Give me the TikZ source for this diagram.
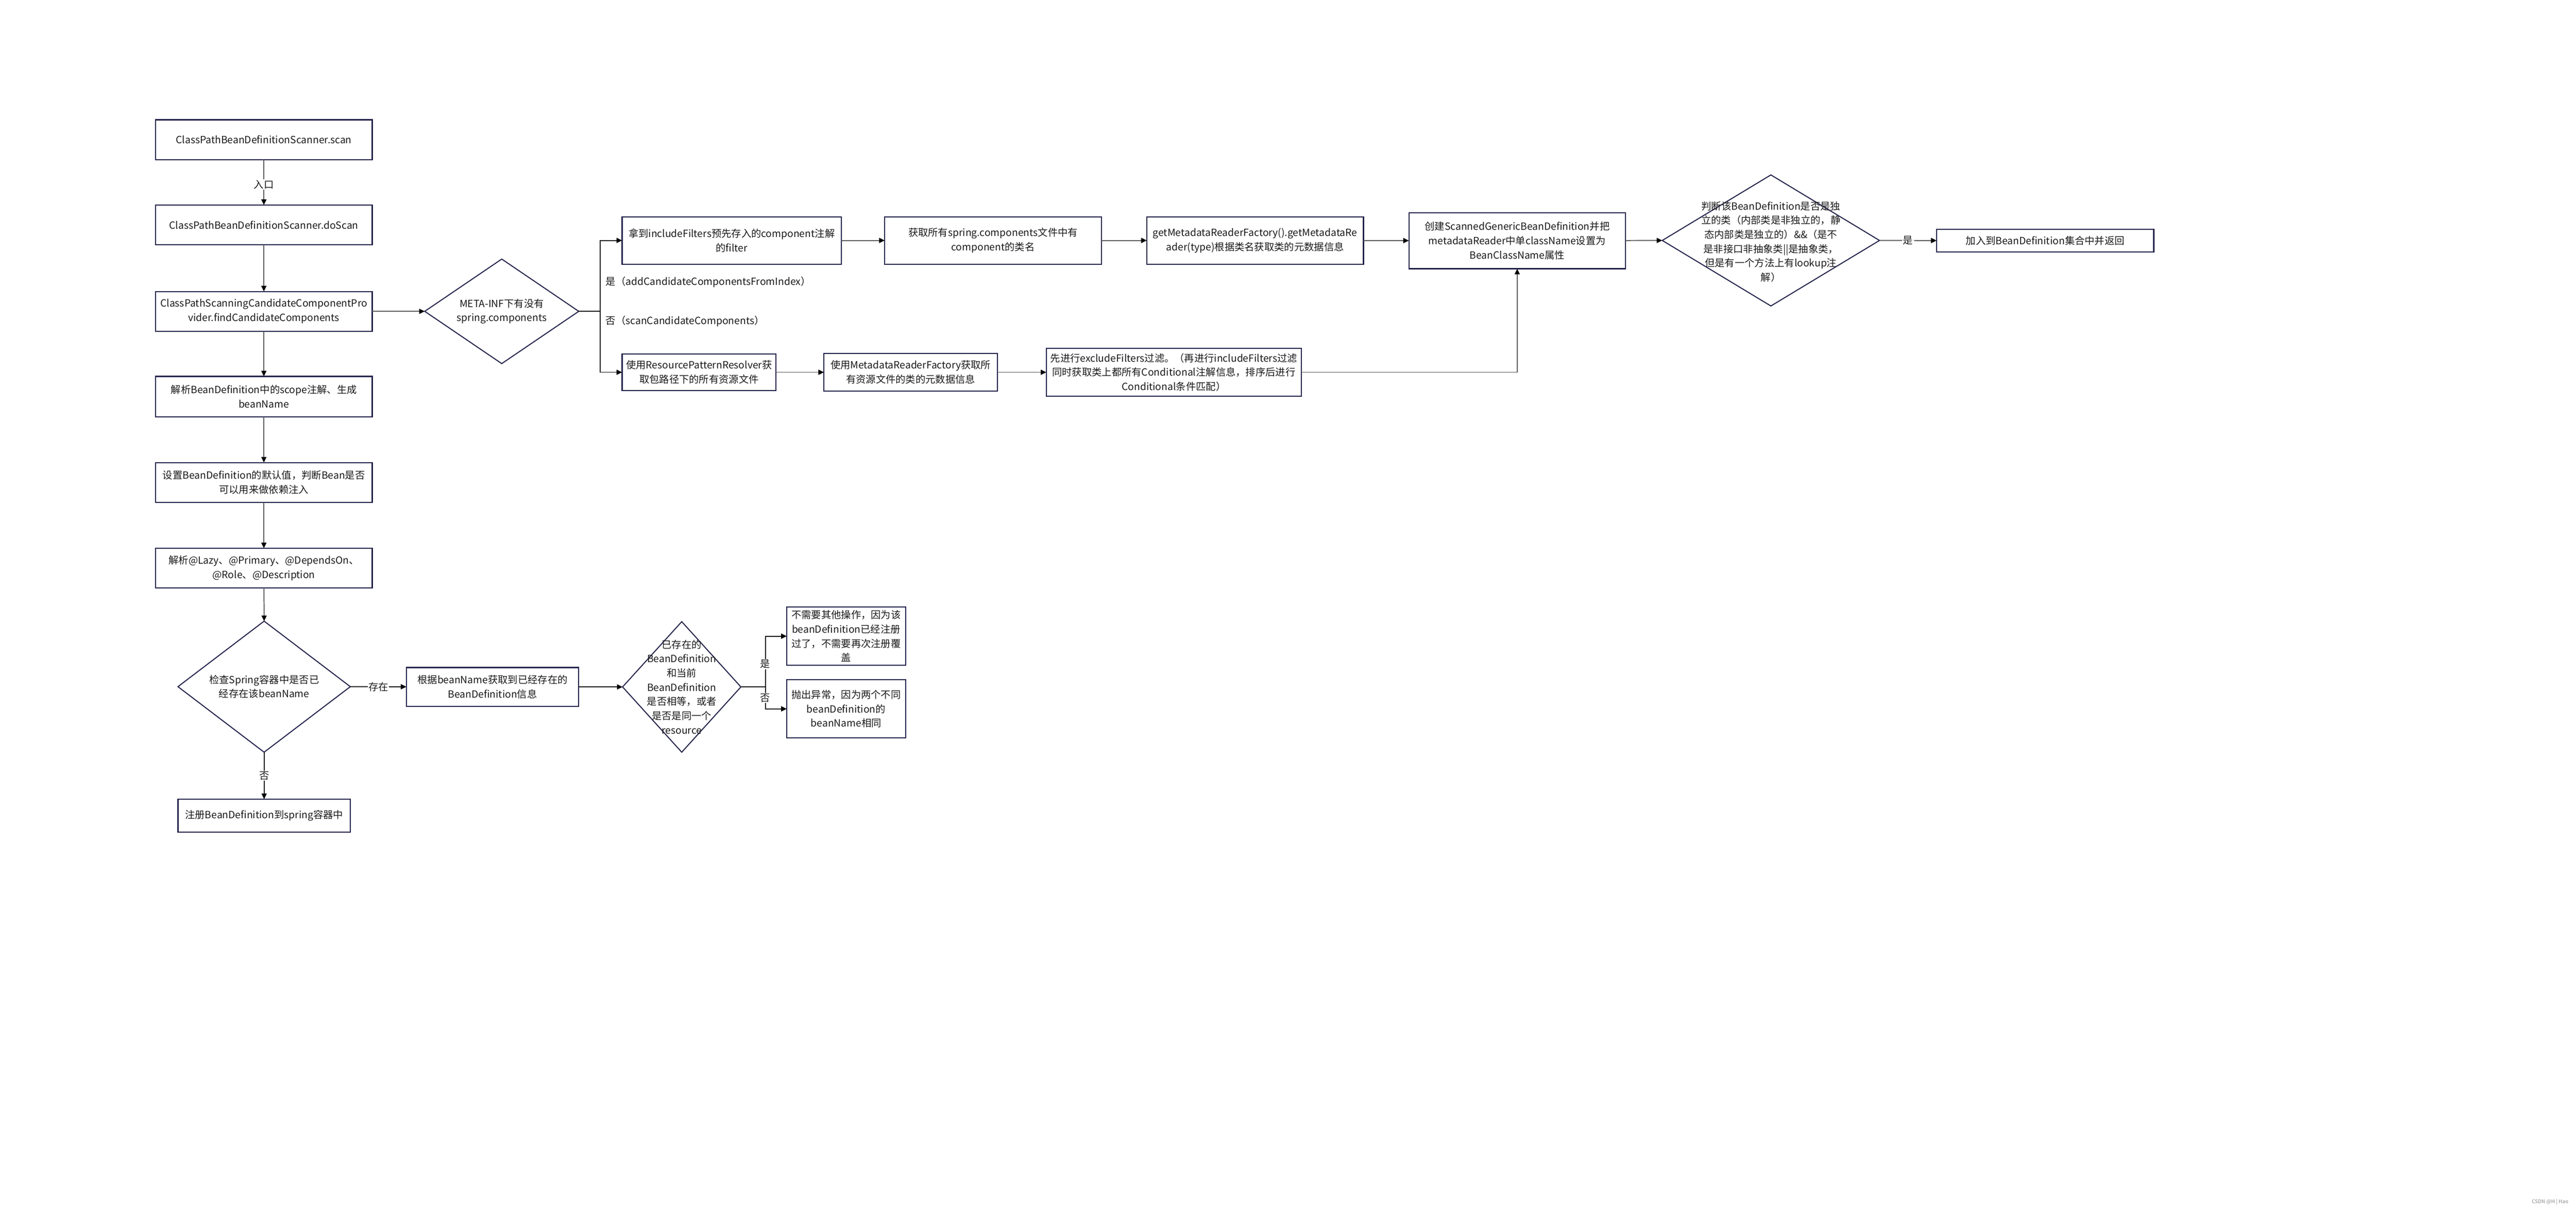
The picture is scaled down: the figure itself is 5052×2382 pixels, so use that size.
\documentclass[tikz,border=0pt]{standalone}
\usepackage{fontspec}
\setmainfont{Noto Sans CJK SC}
\usetikzlibrary{shapes.geometric,arrows.meta}
\definecolor{navy}{HTML}{24244C}
\definecolor{connc}{HTML}{5C5C5C}
\definecolor{txt}{HTML}{1A1A1A}
\begin{document}
\begin{tikzpicture}[x=1pt,y=-1pt,
  every node/.style={font=\fontsize{19.5}{28}\selectfont, text=txt},
  box/.style={draw=navy, line width=2.2pt, fill=white, align=center, inner sep=0pt, outer sep=0pt},
  dia/.style={draw=navy, line width=2pt, diamond, inner sep=0pt, outer sep=0pt},
  dtext/.style={align=center, inner sep=0pt},
  conn/.style={draw=connc, line width=2pt, -{Triangle[length=11pt,width=10pt,color=black]}},
  dconn/.style={conn, draw=txt},
  lbl/.style={fill=white, inner sep=1.5pt},
  sz/.style 2 args={minimum width=#1, minimum height=#2}
]
\path[use as bounding box, fill=white] (0,0) rectangle (5052,2382);

% left column
\node[box, sz={425}{78}] (b1) at (517.5,274) {ClassPathBeanDefinitionScanner.scan};
\node[box, sz={425}{78}] (b2) at (517.5,441) {ClassPathBeanDefinitionScanner.doScan};
\node[box, sz={425}{78}] (b3) at (517.5,610.5) {ClassPathScanningCandidateComponentPro\\vider.findCandidateComponents};
\node[box, sz={425}{79}] (b4) at (517.5,777.5) {解析BeanDefinition中的scope注解、生成\\beanName};
\node[box, sz={425}{78}] (b5) at (517.5,946) {设置BeanDefinition的默认值，判断Bean是否\\可以用来做依赖注入};
\node[box, sz={425}{78}] (b6) at (517.5,1114) {解析@Lazy、@Primary、@DependsOn、\\@Role、@Description};
\node[dia, sz={338}{257}] (d1) at (518,1346.5) {};
\node[dtext] (d1t) at (d1) {检查Spring容器中是否已\\经存在该beanName};
\node[box, sz={338}{65}] (b7) at (518,1599.5) {注册BeanDefinition到spring容器中};

% existing bean branch
\node[box, sz={338}{76}] (b8) at (966,1347) {根据beanName获取到已经存在的\\BeanDefinition信息};
\node[dia, sz={232}{256}] (d2) at (1337,1347) {};
\node[dtext] (d2t) at (d2) {已存在的\\BeanDefinition\\和当前\\BeanDefinition\\是否相等，或者\\是否是同一个\\resource};
\coordinate (j2) at (1501,1347);
\node[box, sz={233}{114}] (b9) at (1659.5,1247.5) {不需要其他操作，因为该\\beanDefinition已经注册\\过了，不需要再次注册覆\\盖};
\node[box, sz={233}{114}] (b10) at (1659.5,1390) {抛出异常，因为两个不同\\beanDefinition的\\beanName相同};

% top flow
\node[dia, sz={302}{205}] (dm) at (984,610.5) {};
\node[dtext] (dmt) at (dm) {META-INF下有没有\\spring.components};
\coordinate (j1) at (1177,610.5);
\node[anchor=west, inner sep=0pt] (ly) at (1188,553) {是（addCandidateComponentsFromIndex）};
\node[anchor=west, inner sep=0pt] (ln) at (1188,630) {否（scanCandidateComponents）};

\node[box, sz={430}{93}] (b11) at (1435,471.5) {拿到includeFilters预先存入的component注解\\的filter};
\node[box, sz={425}{93}] (b12) at (1947.5,471.5) {获取所有spring.components文件中有\\component的类名};
\node[box, sz={425}{93}] (b13) at (2461.5,471.5) {getMetadataReaderFactory().getMetadataRe\\ader(type)根据类名获取类的元数据信息};
\node[box, sz={302}{72}] (b14) at (1371,730) {使用ResourcePatternResolver获\\取包路径下的所有资源文件};
\node[box, sz={340}{73}] (b15) at (1786,730) {使用MetadataReaderFactory获取所\\有资源文件的类的元数据信息};
\node[box, sz={500}{94}] (b16) at (2302,730) {先进行excludeFilters过滤。（再进行includeFilters过滤\\同时获取类上都所有Conditional注解信息，排序后进行\\Conditional条件匹配）};
\node[box, sz={425}{110}] (b17) at (2975.5,472) {创建ScannedGenericBeanDefinition并把\\metadataReader中单className设置为\\BeanClassName属性};
\node[dia, sz={426}{257}] (d3) at (3473,471.5) {};
\node[dtext] (d3t) at (3473,474) {判断该BeanDefinition是否是独\\立的类（内部类是非独立的，静\\态内部类是独立的）\&\&（是不\\是非接口非抽象类||是抽象类，\\但是有一个方法上有lookup注\\解）};
\node[box, sz={426}{44}] (b18) at (4011,472) {加入到BeanDefinition集合中并返回};

\node[anchor=east, inner sep=0pt, text=black!45, font=\fontsize{10}{12}\selectfont] (wm) at (5037,2357) {CSDN @H | Hao};

% connectors
\draw[conn] (b1) -- node[lbl, pos=0.55] {入口} (b2);
\draw[conn] (b2) -- (b3);
\draw[conn] (b3) -- (b4);
\draw[conn] (b4) -- (b5);
\draw[conn] (b5) -- (b6);
\draw[conn] (b6) -- (d1.north);
\draw[dconn] (d1.south) -- node[lbl] {否} (b7);
\draw[dconn] (d1.east) -- node[lbl] {存在} (b8);
\draw[dconn] (b8) -- (d2.west);
\draw[dconn] (d2.east) -- (j2) |- node[lbl, pos=0.224] {是} (b9.west);
\draw[dconn] (j2) |- node[lbl, pos=0.25] {否} (b10.west);

\draw[conn] (b3.east) -- (dm.west);
\draw[dconn] (dm.east) -- (j1) |- (b11.west);
\draw[dconn] (j1) |- (b14.west);
\draw[conn] (b11) -- (b12);
\draw[conn] (b12) -- (b13);
\draw[conn] (b13) -- (b17);
\draw[conn] (b14) -- (b15);
\draw[conn] (b15) -- (b16);
\draw[conn] (b16.east) -| (b17.south);
\draw[conn] (b17) -- (d3.west);
\draw[conn] (d3.east) -- node[lbl] {是} (b18);
\end{tikzpicture}
\end{document}
